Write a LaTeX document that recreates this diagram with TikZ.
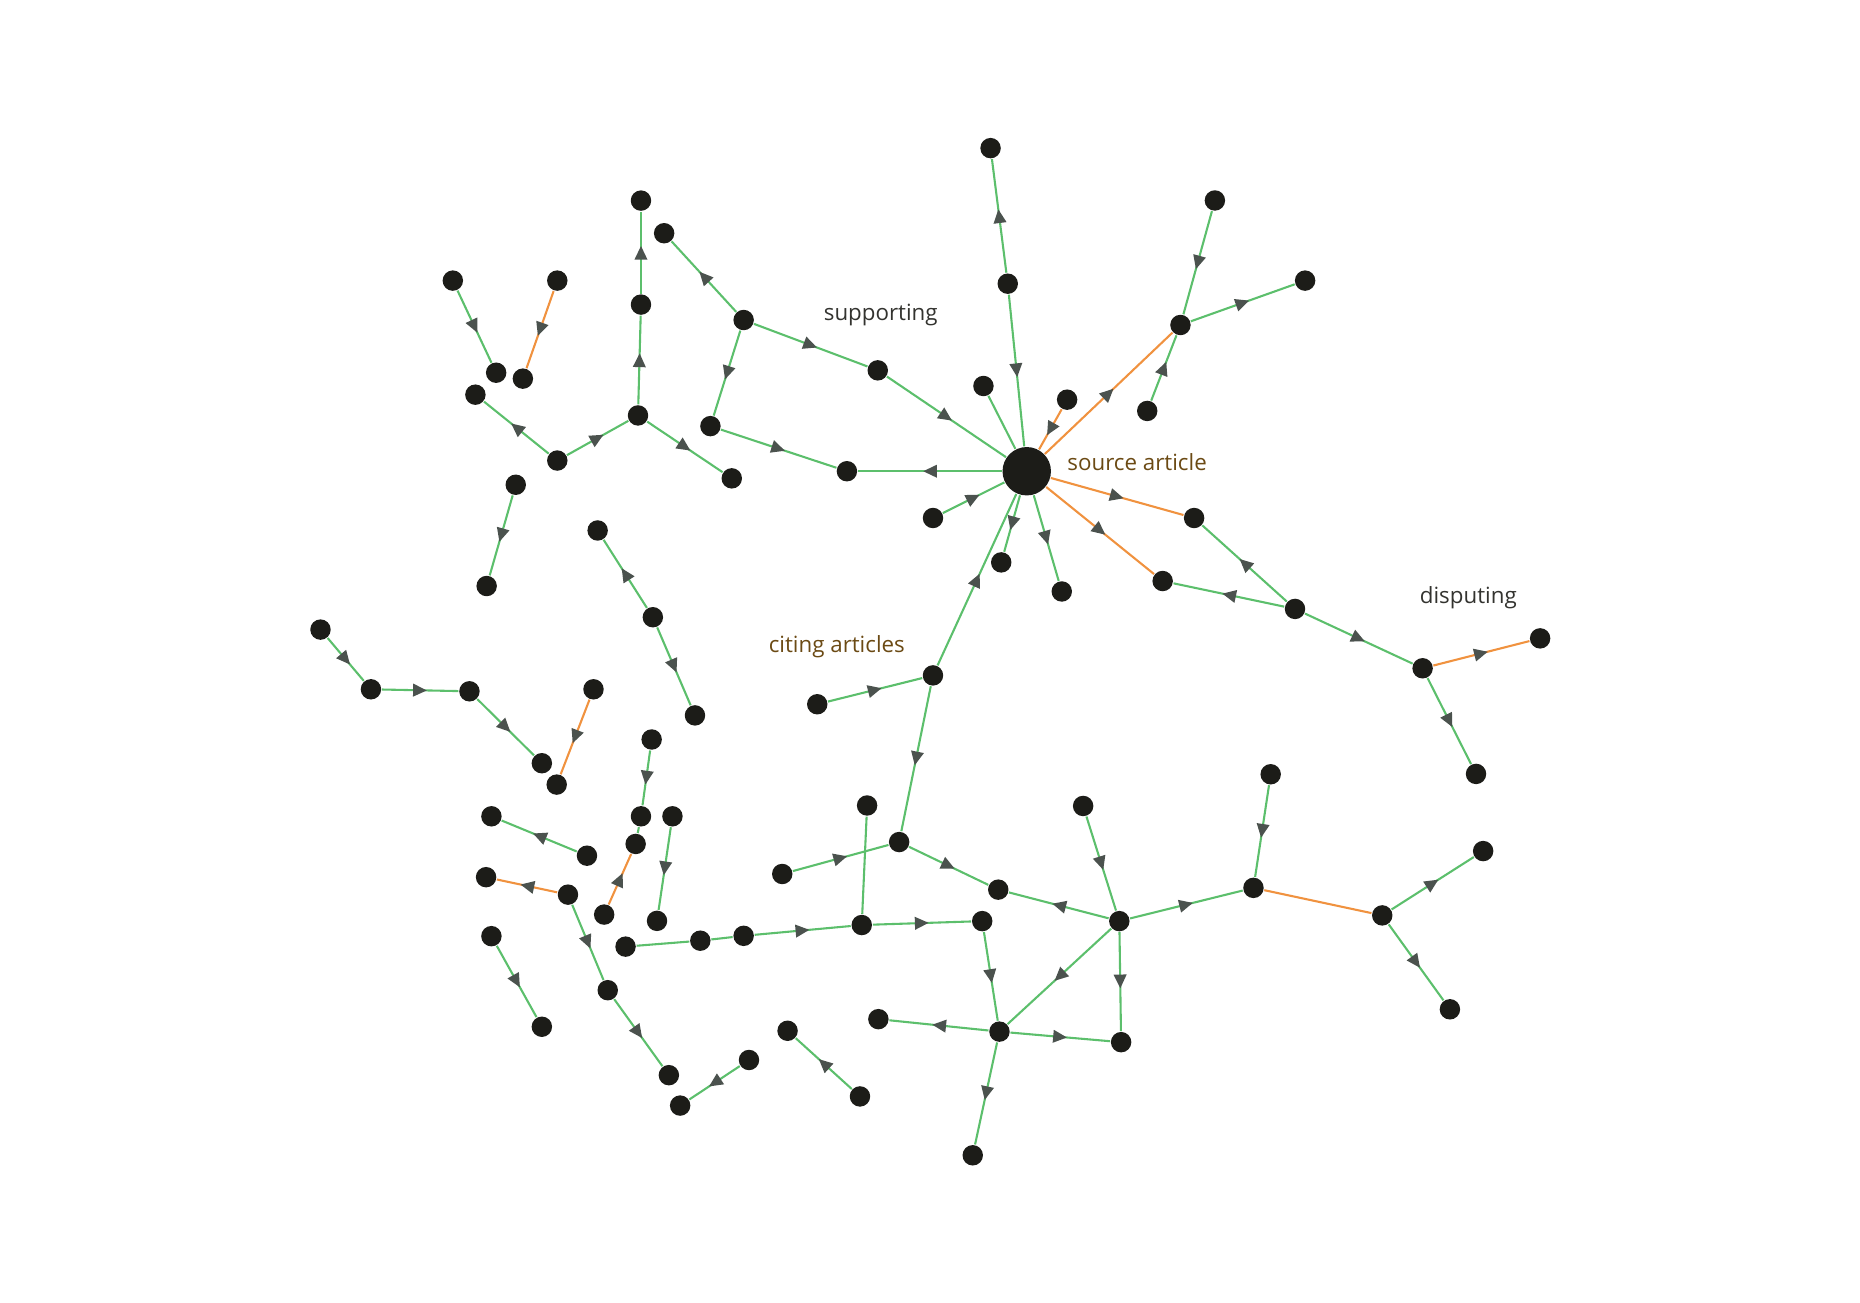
\documentclass[tikz,border=0pt]{standalone}
\usepackage{fontspec}
\setmainfont{Open Sans}
\usetikzlibrary{arrows.meta, decorations.markings}

\definecolor{citegreen}{HTML}{5CBF6C}
\definecolor{disporange}{HTML}{F0923F}
\definecolor{tipgray}{HTML}{4B524E}
\definecolor{dotblack}{HTML}{1C1C18}
\definecolor{labelbrown}{HTML}{6B4A14}

\begin{document}
\begin{tikzpicture}[x=0.01cm, y=-0.01cm,
    dot/.style={circle, fill=dotblack, inner sep=0pt, minimum size=4.9pt},
    src/.style={circle, fill=dotblack, inner sep=0pt, minimum size=11.6pt},
    cite/.style={draw=citegreen, line width=0.5pt},
    dispute/.style={draw=disporange, line width=0.5pt},
    flow/.style={postaction={decorate, decoration={markings,
        mark=at position 0.5 with {\pgftransformxshift{1.6pt}\arrow{Triangle[length=3.3pt, width=3pt, color=tipgray]}}}}},
    lbl/.style={font=\fontsize{5.35}{6.5}\selectfont, text=dotblack!90}]
      \useasboundingbox (0,0) rectangle (1567,1097);

      \node[src] (source) at (865,397) {};
      \node[dot] (p1) at (381.5,236.4) {};
      \node[dot] (p2) at (469.5,236.4) {};
      \node[dot] (p3) at (418,314) {};
      \node[dot] (p4) at (440.5,319) {};
      \node[dot] (p5) at (400.5,332.5) {};
      \node[dot] (p6) at (469.5,388) {};
      \node[dot] (p7) at (537.5,350) {};
      \node[dot] (p8) at (540,256.6) {};
      \node[dot] (p9) at (540,169) {};
      \node[dot] (p10) at (616.5,403) {};
      \node[dot] (p11) at (559.5,196.5) {};
      \node[dot] (p12) at (626.5,269.6) {};
      \node[dot] (p13) at (739.5,312) {};
      \node[dot] (p14) at (598.5,359) {};
      \node[dot] (p15) at (713.5,397) {};
      \node[dot] (p16) at (828.5,325.2) {};
      \node[dot] (p17) at (849,239) {};
      \node[dot] (p18) at (834.5,124.8) {};
      \node[dot] (p19) at (899,336.7) {};
      \node[dot] (p20) at (994.5,273.8) {};
      \node[dot] (p21) at (1023.5,168.9) {};
      \node[dot] (p22) at (1099.5,236.4) {};
      \node[dot] (p23) at (966.5,346.2) {};
      \node[dot] (p24) at (1006,436.4) {};
      \node[dot] (p25) at (979.5,489.5) {};
      \node[dot] (p26) at (1091,513) {};
      \node[dot] (p27) at (1198.5,563) {};
      \node[dot] (p28) at (1297.5,537.8) {};
      \node[dot] (p29) at (1243.5,652) {};
      \node[dot] (p30) at (786,436.4) {};
      \node[dot] (p31) at (843.5,473.8) {};
      \node[dot] (p32) at (894.5,498.3) {};
      \node[dot] (p33) at (786,569) {};
      \node[dot] (p34) at (688.5,593.3) {};
      \node[dot] (p35) at (757.5,709.4) {};
      \node[dot] (p36) at (434.5,408.4) {};
      \node[dot] (p37) at (410,493.7) {};
      \node[dot] (p38) at (503.5,446.9) {};
      \node[dot] (p39) at (550,520) {};
      \node[dot] (p40) at (585.5,602.7) {};
      \node[dot] (p41) at (270,530.4) {};
      \node[dot] (p42) at (312.5,580.7) {};
      \node[dot] (p43) at (395.5,582.4) {};
      \node[dot] (p44) at (456.5,643) {};
      \node[dot] (p45) at (500,580.7) {};
      \node[dot] (p46) at (469,661) {};
      \node[dot] (p47) at (549,623) {};
      \node[dot] (p48) at (540,687.7) {};
      \node[dot] (p49) at (566.5,687.7) {};
      \node[dot] (p50) at (535.5,711) {};
      \node[dot] (p51) at (414,687.7) {};
      \node[dot] (p52) at (494.5,720.9) {};
      \node[dot] (p53) at (409.5,739) {};
      \node[dot] (p54) at (478.5,753.7) {};
      \node[dot] (p55) at (509,770.5) {};
      \node[dot] (p56) at (553.5,775.8) {};
      \node[dot] (p57) at (527,797.5) {};
      \node[dot] (p58) at (590,792.5) {};
      \node[dot] (p59) at (626.5,788.4) {};
      \node[dot] (p60) at (726,779.3) {};
      \node[dot] (p61) at (827.5,776) {};
      \node[dot] (p62) at (730.5,678.6) {};
      \node[dot] (p63) at (659,736.3) {};
      \node[dot] (p64) at (841,749.5) {};
      \node[dot] (p65) at (943,776) {};
      \node[dot] (p66) at (912.5,679) {};
      \node[dot] (p67) at (1056,748) {};
      \node[dot] (p68) at (1070.5,652.3) {};
      \node[dot] (p69) at (1164.5,771.2) {};
      \node[dot] (p70) at (1249.5,717) {};
      \node[dot] (p71) at (1221.5,850.3) {};
      \node[dot] (p72) at (842,869.1) {};
      \node[dot] (p73) at (740,858.6) {};
      \node[dot] (p74) at (944.5,878) {};
      \node[dot] (p75) at (819.5,973.3) {};
      \node[dot] (p76) at (414,788.7) {};
      \node[dot] (p77) at (456.5,865) {};
      \node[dot] (p78) at (512,834.2) {};
      \node[dot] (p79) at (563.5,905.8) {};
      \node[dot] (p80) at (573,931.4) {};
      \node[dot] (p81) at (631,893) {};
      \node[dot] (p82) at (663.5,868.4) {};
      \node[dot] (p83) at (724.5,923.7) {};

      \node[lbl] (supporting) at (742,265.5) {supporting};
      \node[lbl, text=labelbrown] (sourcelbl) at (958,389) {source article};
      \node[lbl] (disputing) at (1237,503.5) {disputing};
      \node[lbl, text=labelbrown] (citing) at (705,545) {citing articles};

      % supporting citations
      \draw[cite, flow] (p1) -- (p3);
      \draw[cite, flow] (p6) -- (p5);
      \draw[cite, flow] (p6) -- (p7);
      \draw[cite, flow] (p7) -- (p8);
      \draw[cite, flow] (p8) -- (p9);
      \draw[cite, flow] (p7) -- (p10);
      \draw[cite, flow] (p12) -- (p11);
      \draw[cite, flow] (p12) -- (p13);
      \draw[cite, flow] (p12) -- (p14);
      \draw[cite, flow] (p14) -- (p15);
      \draw[cite, flow] (source) -- (p15);
      \draw[cite, flow] (p13) -- (source);
      \draw[cite, flow] (p36) -- (p37);
      \draw[cite, flow] (p39) -- (p38);
      \draw[cite, flow] (p39) -- (p40);
      \draw[cite, flow] (p41) -- (p42);
      \draw[cite, flow] (p17) -- (p18);
      \draw[cite, flow] (p17) -- (source);
      \draw[cite, flow] (p21) -- (p20);
      \draw[cite, flow] (p20) -- (p22);
      \draw[cite, flow] (p23) -- (p20);
      \draw[cite, flow] (p26) -- (p24);
      \draw[cite, flow] (p26) -- (p25);
      \draw[cite, flow] (p26) -- (p27);
      \draw[cite, flow] (p30) -- (source);
      \draw[cite, flow] (source) -- (p31);
      \draw[cite, flow] (source) -- (p32);
      \draw[cite, flow] (p33) -- (source);
      \draw[cite, flow] (p27) -- (p29);
      \draw[cite, flow] (p66) -- (p65);
      \draw[cite, flow] (p65) -- (p64);
      \draw[cite, flow] (p35) -- (p64);
      \draw[cite, flow] (p65) -- (p67);
      \draw[cite, flow] (p68) -- (p67);
      \draw[cite, flow] (p69) -- (p70);
      \draw[cite, flow] (p69) -- (p71);
      \draw[cite, flow] (p61) -- (p72);
      \draw[cite, flow] (p65) -- (p72);
      \draw[cite, flow] (p65) -- (p74);
      \draw[cite, flow] (p72) -- (p74);
      \draw[cite, flow] (p72) -- (p73);
      \draw[cite, flow] (p72) -- (p75);
      \draw[cite, flow] (p60) -- (p61);
      \draw[cite, flow] (p42) -- (p43);
      \draw[cite, flow] (p43) -- (p44);
      \draw[cite, flow] (p47) -- (p48);
      \draw[cite, flow] (p49) -- (p56);
      \draw[cite, flow] (p52) -- (p51);
      \draw[cite, flow] (p54) -- (p78);
      \draw[cite, flow] (p78) -- (p79);
      \draw[cite, flow] (p81) -- (p80);
      \draw[cite, flow] (p83) -- (p82);
      \draw[cite, flow] (p76) -- (p77);
      \draw[cite, flow] (p59) -- (p60);
      \draw[cite, flow] (p63) -- (p35);
      \draw[cite, flow] (p34) -- (p33);
      \draw[cite, flow] (p33) -- (p35);
      \draw[cite] (p16) -- (source);
      \draw[cite] (p48) -- (p50);
      \draw[cite] (p57) -- (p58);
      \draw[cite] (p58) -- (p59);
      \draw[cite] (p62) -- (p60);

      % disputing citations
      \draw[dispute, flow] (p2) -- (p4);
      \draw[dispute, flow] (p19) -- (source);
      \draw[dispute, flow] (source) -- (p20);
      \draw[dispute, flow] (source) -- (p24);
      \draw[dispute, flow] (source) -- (p25);
      \draw[dispute, flow] (p27) -- (p28);
      \draw[dispute, flow] (p45) -- (p46);
      \draw[dispute, flow] (p54) -- (p53);
      \draw[dispute, flow] (p55) -- (p50);
      \draw[dispute] (p67) -- (p69);
\end{tikzpicture}
\end{document}
